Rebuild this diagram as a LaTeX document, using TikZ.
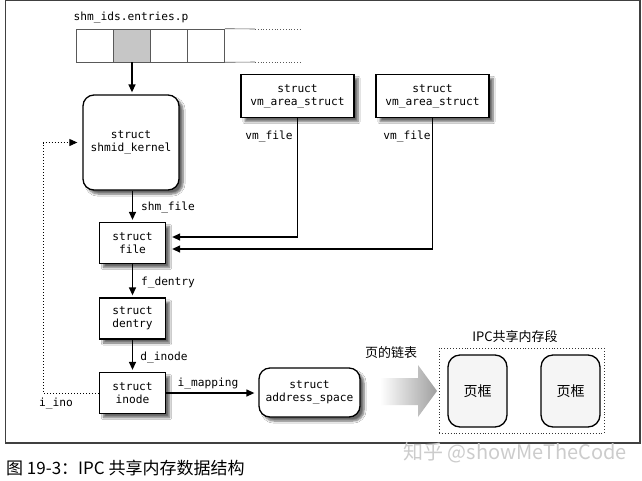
\documentclass[tikz,border=0pt]{standalone}
\usepackage{fontspec}
\setmainfont{Noto Sans CJK SC}
\setmonofont{DejaVu Sans Mono}
\usetikzlibrary{arrows.meta,shadows.blur,calc}
\begin{document}
\begin{tikzpicture}[x=1pt,y=-1pt,
  mono/.style={font=\ttfamily\fontsize{11.2}{13}\selectfont},
  sh/.style={blur shadow={shadow xshift=4pt, shadow yshift=-4pt, shadow blur steps=6, shadow opacity=60}},
  box/.style={draw=black, line width=1.3pt, fill=white, align=center, inner sep=0pt, mono, sh},
  rbox/.style={box, rounded corners=11pt},
  cell/.style={draw=black!65, line width=0.6pt, minimum width=37pt, minimum height=33pt, inner sep=0pt},
  conn/.style={line width=1.3pt, -{Triangle[length=8pt,width=7pt]}},
  lbl/.style={mono, inner sep=0pt},
  cjk/.style={inner sep=0pt, font=\fontsize{13}{15}\selectfont},
  page/.style={draw=black, line width=1.3pt, rounded corners=12pt, fill=gray!8, minimum width=59pt, minimum height=72pt, inner sep=0pt, font=\fontsize{14}{16}\selectfont}
]
\useasboundingbox (0,0) rectangle (642,480);
\fill[white] (0,0) rectangle (642,480);
% outer frame
\draw[black!75, line width=1.2pt] (5.5,0.8) rectangle (640,443);

% array
\node[lbl] (arrlbl) at (131,18) {shm\_ids.entries.p};
\node[cell] (c1) at (95,45.5) {};
\node[cell, fill=gray!45] (c2) at (132,45.5) {};
\node[cell] (c3) at (169,45.5) {};
\node[cell] (c4) at (206,45.5) {};
\coordinate (t1) at (255,29);
\coordinate (t2) at (302,29);
\coordinate (b1) at (255,62);
\coordinate (b2) at (302,62);
\draw[black!65, line width=0.6pt] (c4.north east) -- (t1);
\draw[black!65, line width=0.6pt] (c4.south east) -- (b1);
\draw[black!65, line width=0.8pt, dotted] (t1) -- (t2);
\draw[black!65, line width=0.8pt, dotted] (b1) -- (b2);

% boxes
\node[rbox, minimum width=96pt, minimum height=95pt] (shmid) at (131,142.5) {struct\\shmid\_kernel};
\node[box, minimum width=66pt, minimum height=41pt] (file) at (132.5,243) {struct\\file};
\node[box, minimum width=66pt, minimum height=41pt] (dentry) at (132.5,318.5) {struct\\dentry};
\node[box, minimum width=66pt, minimum height=41pt] (inode) at (132.5,393) {struct\\inode};
\node[rbox, minimum width=101pt, minimum height=49pt] (addr) at (309.5,392.5) {struct\\address\_space};
\node[box, minimum width=113pt, minimum height=43pt] (vm1) at (297.5,96) {struct\\vm\_area\_struct};
\node[box, minimum width=113pt, minimum height=43pt] (vm2) at (432.5,96) {struct\\vm\_area\_struct};

% vertical chain
\draw[conn, shorten >=2pt] (c2.south) -- (c2.south |- shmid.north);
\draw[conn, shorten >=2pt] (shmid.south -| file.north) -- (file.north);
\draw[conn, shorten >=2pt] (file.south) -- (dentry.north);
\draw[conn, shorten >=2pt] (dentry.south) -- (inode.north);
\draw[conn, shorten >=4pt] (inode.east) -- (inode.east -| addr.west);
\node[lbl] (l1) at (168,208) {shm\_file};
\node[lbl] (l2) at (168,283) {f\_dentry};
\node[lbl] (l3) at (164,358) {d\_inode};
\node[lbl] (l4) at (208,384) {i\_mapping};

% vm_file connectors
\draw[conn, shorten >=6pt] (vm1.south) |- ([yshift=6pt]file.east);
\draw[conn, shorten >=6pt] (vm2.south) |- ([yshift=-6pt]file.east);
\node[lbl] (l5) at (269,137) {vm\_file};
\node[lbl] (l6) at (407,137) {vm\_file};

% i_ino dotted back link
\coordinate (d1) at (43,393);
\draw[line width=1pt, dotted, -{Triangle[length=8pt,width=7pt]}, shorten >=5pt] (inode.west) -- (d1) |- (shmid.west);
\node[lbl] (l7) at (56,404) {i\_ino};

% gradient arrow
\shade[left color=white, right color=gray!75] (380,378) -- (418,378) -- (418,365) -- (437,391) -- (418,417) -- (418,405) -- (380,405) -- cycle;
\node[cjk] (lst) at (391,353) {页的链表};

% IPC segment
\node[draw=black!80, dotted, line width=0.9pt, minimum width=165pt, minimum height=85pt, inner sep=0pt] (seg) at (521.5,390.5) {};
\node[cjk] (seglbl) at (515,337) {IPC共享内存段};
\node[page] (p1) at (477.5,391) {页框};
\node[page] (p2) at (570.5,391) {页框};

% caption and watermark
\node[anchor=west, inner sep=0pt, font=\fontsize{17}{19}\selectfont] (cap) at (6,468) {图 19-3：IPC 共享内存数据结构};
\node[inner sep=0pt, text=gray!40, font=\fontsize{20}{22}\selectfont] (wm) at (515,453) {知乎 @showMeTheCode};
\end{tikzpicture}
\end{document}
